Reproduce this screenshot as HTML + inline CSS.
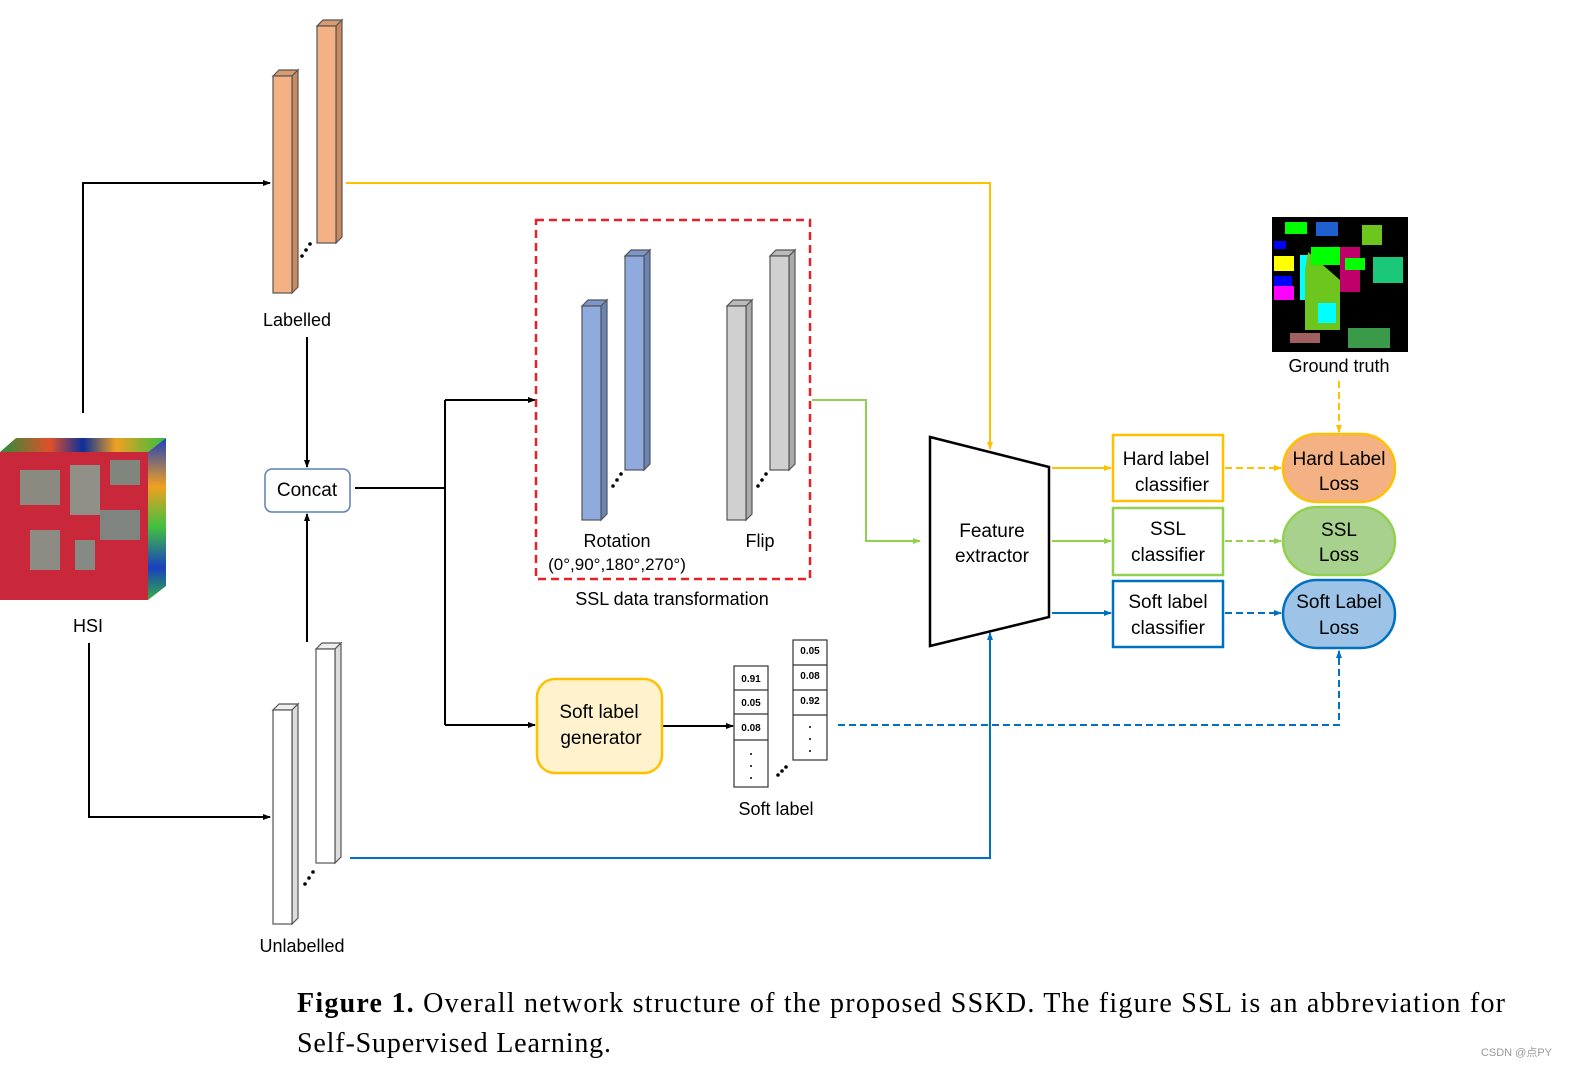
<!DOCTYPE html>
<html><head><meta charset="utf-8"><style>
html,body{margin:0;padding:0;background:#fff;width:1582px;height:1076px;overflow:hidden;}
svg{display:block;}
text{font-family:"Liberation Sans","DejaVu Sans",sans-serif;}
</style></head><body>
<svg width="1582" height="1076" viewBox="0 0 1582 1076" xmlns="http://www.w3.org/2000/svg">
<defs>
<marker id="ak" markerWidth="8" markerHeight="8" refX="7" refY="4" orient="auto" markerUnits="userSpaceOnUse"><path d="M0,1 L8,4 L0,7z" fill="#000"/></marker>
<marker id="ay" markerWidth="8" markerHeight="8" refX="7" refY="4" orient="auto" markerUnits="userSpaceOnUse"><path d="M0,1 L8,4 L0,7z" fill="#ffc000"/></marker>
<marker id="ag" markerWidth="8" markerHeight="8" refX="7" refY="4" orient="auto" markerUnits="userSpaceOnUse"><path d="M0,1 L8,4 L0,7z" fill="#92d050"/></marker>
<marker id="ab" markerWidth="8" markerHeight="8" refX="7" refY="4" orient="auto" markerUnits="userSpaceOnUse"><path d="M0,1 L8,4 L0,7z" fill="#0070c0"/></marker>
<linearGradient id="top" x1="0" x2="1"><stop offset="0" stop-color="#2a8f3a"/><stop offset=".3" stop-color="#e0502a"/><stop offset=".5" stop-color="#0b2f9a"/><stop offset=".7" stop-color="#f0a020"/><stop offset="1" stop-color="#30c040"/></linearGradient>
<linearGradient id="side" x1="0" y1="0" x2="0" y2="1"><stop offset="0" stop-color="#1a40c0"/><stop offset=".3" stop-color="#f0a020"/><stop offset=".55" stop-color="#40c040"/><stop offset=".8" stop-color="#1a40c0"/><stop offset="1" stop-color="#30b040"/></linearGradient>
</defs>

<!-- HSI cube -->
<polygon points="0,452 16,438 166,438 148,452" fill="url(#top)"/>
<polygon points="148,452 166,438 166,586 148,600" fill="url(#side)"/>
<rect x="0" y="452" width="148" height="148" fill="#c8283a"/>
<rect x="20" y="470" width="40" height="35" fill="#8a8a80"/>
<rect x="70" y="465" width="30" height="50" fill="#909088"/>
<rect x="100" y="510" width="40" height="30" fill="#7f8480"/>
<rect x="30" y="530" width="30" height="40" fill="#8c8c84"/>
<rect x="75" y="540" width="20" height="30" fill="#858a84"/>
<rect x="110" y="460" width="30" height="25" fill="#80857e"/>
<text x="88" y="632" font-size="18" text-anchor="middle">HSI</text>

<!-- black connectors -->
<polyline points="83,413 83,183 270,183" fill="none" stroke="#000" stroke-width="2" marker-end="url(#ak)"/>
<polyline points="89,643 89,817 270,817" fill="none" stroke="#000" stroke-width="2" marker-end="url(#ak)"/>
<line x1="307" y1="337" x2="307" y2="467" stroke="#000" stroke-width="2" marker-end="url(#ak)"/>
<line x1="307" y1="642" x2="307" y2="514" stroke="#000" stroke-width="2" marker-end="url(#ak)"/>
<line x1="355" y1="488" x2="445" y2="488" stroke="#000" stroke-width="2"/>
<line x1="445" y1="400" x2="445" y2="725" stroke="#000" stroke-width="2"/>
<line x1="445" y1="400" x2="535" y2="400" stroke="#000" stroke-width="2" marker-end="url(#ak)"/>
<line x1="445" y1="725" x2="535" y2="725" stroke="#000" stroke-width="2" marker-end="url(#ak)"/>
<line x1="662" y1="726" x2="733" y2="726" stroke="#000" stroke-width="2" marker-end="url(#ak)"/>

<!-- orange bars -->
<g stroke="#555" stroke-width="1.2">
<polygon points="273,76 279,70 298,70 292,76" fill="#d99a6c"/><polygon points="292,76 298,70 298,287 292,293" fill="#c88a5e"/><rect x="273" y="76" width="19" height="217" fill="#f4b183"/>
<polygon points="317,26 323,20 342,20 336,26" fill="#d99a6c"/><polygon points="336,26 342,20 342,237 336,243" fill="#c88a5e"/><rect x="317" y="26" width="19" height="217" fill="#f4b183"/>
</g>
<g fill="#000"><circle cx="302" cy="256" r="1.8"/><circle cx="306" cy="250" r="1.8"/><circle cx="310" cy="244" r="1.8"/></g>
<text x="297" y="326" font-size="18" text-anchor="middle">Labelled</text>

<!-- unlabelled bars -->
<g stroke="#555" stroke-width="1.2">
<polygon points="273,710 279,704 298,704 292,710" fill="#eee"/><polygon points="292,710 298,704 298,918 292,924" fill="#ddd"/><rect x="273" y="710" width="19" height="214" fill="#fff"/>
<polygon points="316,649 322,643 341,643 335,649" fill="#eee"/><polygon points="335,649 341,643 341,857 335,863" fill="#ddd"/><rect x="316" y="649" width="19" height="214" fill="#fff"/>
</g>
<g fill="#000"><circle cx="305" cy="884" r="1.8"/><circle cx="309" cy="878" r="1.8"/><circle cx="313" cy="872" r="1.8"/></g>
<text x="302" y="952" font-size="18" text-anchor="middle">Unlabelled</text>

<!-- concat -->
<rect x="265" y="469" width="85" height="43" rx="7" fill="#fff" stroke="#5b7fb8" stroke-width="1.5"/>
<text x="307" y="496" font-size="19" text-anchor="middle">Concat</text>

<!-- SSL box -->
<rect x="536" y="220" width="274" height="359" fill="none" stroke="#e8202a" stroke-width="2.5" stroke-dasharray="8,5"/>
<g stroke="#555" stroke-width="1.2">
<polygon points="582,306 588,300 607,300 601,306" fill="#7a96cc"/><polygon points="601,306 607,300 607,514 601,520" fill="#6a84b8"/><rect x="582" y="306" width="19" height="214" fill="#8faadc"/>
<polygon points="625,256 631,250 650,250 644,256" fill="#7a96cc"/><polygon points="644,256 650,250 650,464 644,470" fill="#6a84b8"/><rect x="625" y="256" width="19" height="214" fill="#8faadc"/>
<polygon points="727,306 733,300 752,300 746,306" fill="#bbb"/><polygon points="746,306 752,300 752,514 746,520" fill="#aaa"/><rect x="727" y="306" width="19" height="214" fill="#d0d0d0"/>
<polygon points="770,256 776,250 795,250 789,256" fill="#bbb"/><polygon points="789,256 795,250 795,464 789,470" fill="#aaa"/><rect x="770" y="256" width="19" height="214" fill="#d0d0d0"/>
</g>
<g fill="#000"><circle cx="613" cy="486" r="1.8"/><circle cx="617" cy="480" r="1.8"/><circle cx="621" cy="474" r="1.8"/>
<circle cx="758" cy="486" r="1.8"/><circle cx="762" cy="480" r="1.8"/><circle cx="766" cy="474" r="1.8"/></g>
<text x="617" y="547" font-size="18" text-anchor="middle">Rotation</text>
<text x="617" y="570" font-size="17" text-anchor="middle">(0°,90°,180°,270°)</text>
<text x="760" y="547" font-size="18" text-anchor="middle">Flip</text>
<text x="672" y="605" font-size="18" text-anchor="middle">SSL data transformation</text>

<!-- colored connectors -->
<polyline points="346,183 990,183 990,449" fill="none" stroke="#ffc000" stroke-width="2" marker-end="url(#ay)"/>
<polyline points="812,400 866,400 866,541 920,541" fill="none" stroke="#92d050" stroke-width="2" marker-end="url(#ag)"/>
<polyline points="350,858 990,858 990,633" fill="none" stroke="#0070c0" stroke-width="2" marker-end="url(#ab)"/>
<polyline points="838,725 1339,725 1339,651" fill="none" stroke="#0070c0" stroke-width="2" stroke-dasharray="7,4" marker-end="url(#ab)"/>
<line x1="1339" y1="381" x2="1339" y2="432" stroke="#ffc000" stroke-width="2" stroke-dasharray="7,4" marker-end="url(#ay)"/>

<!-- feature extractor -->
<polygon points="930,437 1049,467 1049,617 930,646" fill="#fff" stroke="#000" stroke-width="2.5"/>
<text x="992" y="537" font-size="19" text-anchor="middle">Feature</text>
<text x="992" y="562" font-size="19" text-anchor="middle">extractor</text>

<line x1="1052" y1="468" x2="1111" y2="468" stroke="#ffc000" stroke-width="2" marker-end="url(#ay)"/>
<line x1="1052" y1="541" x2="1111" y2="541" stroke="#92d050" stroke-width="2" marker-end="url(#ag)"/>
<line x1="1052" y1="613" x2="1111" y2="613" stroke="#0070c0" stroke-width="2" marker-end="url(#ab)"/>

<rect x="1113" y="435" width="110" height="66" fill="#fff" stroke="#ffc000" stroke-width="2.5"/>
<rect x="1113" y="508" width="110" height="67" fill="#fff" stroke="#92d050" stroke-width="2.5"/>
<rect x="1113" y="581" width="110" height="66" fill="#fff" stroke="#0070c0" stroke-width="2.5"/>
<g font-size="19" text-anchor="middle">
<text x="1166" y="465">Hard label</text><text x="1172" y="491">classifier</text>
<text x="1168" y="535">SSL</text><text x="1168" y="561">classifier</text>
<text x="1168" y="608">Soft label</text><text x="1168" y="634">classifier</text>
</g>
<line x1="1225" y1="468" x2="1281" y2="468" stroke="#ffc000" stroke-width="2" stroke-dasharray="7,4" marker-end="url(#ay)"/>
<line x1="1225" y1="541" x2="1281" y2="541" stroke="#92d050" stroke-width="2" stroke-dasharray="7,4" marker-end="url(#ag)"/>
<line x1="1225" y1="613" x2="1281" y2="613" stroke="#0070c0" stroke-width="2" stroke-dasharray="7,4" marker-end="url(#ab)"/>

<rect x="1283" y="434" width="112" height="68" rx="34" fill="#f4b183" stroke="#ffc000" stroke-width="2.5"/>
<rect x="1283" y="507" width="112" height="68" rx="34" fill="#a9d18e" stroke="#92d050" stroke-width="2.5"/>
<rect x="1283" y="580" width="112" height="68" rx="34" fill="#9dc3e6" stroke="#0070c0" stroke-width="2.5"/>
<g font-size="19" text-anchor="middle">
<text x="1339" y="465">Hard Label</text><text x="1339" y="490">Loss</text>
<text x="1339" y="536">SSL</text><text x="1339" y="561">Loss</text>
<text x="1339" y="608">Soft Label</text><text x="1339" y="634">Loss</text>
</g>

<!-- ground truth -->
<rect x="1272" y="217" width="136" height="135" fill="#000"/>
<rect x="1300" y="255" width="10" height="45" fill="#00ffff"/>
<polygon points="1308,252 1340,280 1340,330 1305,330 1305,270" fill="#6cc61e"/>
<rect x="1311" y="247" width="40" height="18" fill="#00ff00"/>
<rect x="1340" y="247" width="20" height="45" fill="#c0006a"/>
<rect x="1274" y="256" width="20" height="15" fill="#ffff00"/>
<rect x="1274" y="276" width="18" height="12" fill="#0000ff"/>
<rect x="1274" y="286" width="20" height="14" fill="#ff00ff"/>
<rect x="1285" y="222" width="22" height="12" fill="#00ff00"/>
<rect x="1316" y="222" width="22" height="14" fill="#1e60d0"/>
<rect x="1362" y="225" width="20" height="20" fill="#6cc61e"/>
<rect x="1373" y="257" width="30" height="26" fill="#1ac87a"/>
<rect x="1348" y="328" width="42" height="20" fill="#3a9a4a"/>
<rect x="1318" y="303" width="18" height="20" fill="#00ffff"/>
<rect x="1290" y="333" width="30" height="10" fill="#a06060"/>
<rect x="1274" y="241" width="12" height="8" fill="#0000ff"/>
<rect x="1345" y="258" width="20" height="12" fill="#00ff00"/>
<text x="1339" y="372" font-size="18" text-anchor="middle">Ground truth</text>

<!-- soft label generator -->
<rect x="537" y="679" width="125" height="94" rx="18" fill="#fff2cc" stroke="#ffc000" stroke-width="2.5"/>
<text x="599" y="718" font-size="19" text-anchor="middle">Soft label</text>
<text x="601" y="744" font-size="19" text-anchor="middle">generator</text>

<!-- soft label columns -->
<g stroke="#333" stroke-width="1.2" fill="#fff">
<rect x="734" y="666" width="34" height="121"/><line x1="734" y1="690" x2="768" y2="690"/><line x1="734" y1="714" x2="768" y2="714"/><line x1="734" y1="740" x2="768" y2="740"/>
<rect x="793" y="640" width="34" height="120"/><line x1="793" y1="665" x2="827" y2="665"/><line x1="793" y1="690" x2="827" y2="690"/><line x1="793" y1="715" x2="827" y2="715"/>
</g>
<g font-size="10" font-weight="bold" text-anchor="middle">
<text x="751" y="682">0.91</text><text x="751" y="706">0.05</text><text x="751" y="731">0.08</text>
<text x="810" y="654">0.05</text><text x="810" y="679">0.08</text><text x="810" y="704">0.92</text>
</g>
<g fill="#000"><circle cx="751" cy="754" r="1"/><circle cx="751" cy="766" r="1"/><circle cx="751" cy="778" r="1"/>
<circle cx="810" cy="727" r="1"/><circle cx="810" cy="739" r="1"/><circle cx="810" cy="751" r="1"/>
<circle cx="778" cy="775" r="1.8"/><circle cx="782" cy="771" r="1.8"/><circle cx="786" cy="767" r="1.8"/></g>
<text x="776" y="815" font-size="18" text-anchor="middle">Soft label</text>

<!-- caption -->
<text x="297" y="1012" font-size="28" textLength="1208" lengthAdjust="spacing" style="font-family:'Liberation Serif',serif"><tspan font-weight="bold">Figure 1.</tspan> Overall network structure of the proposed SSKD. The figure SSL is an abbreviation for</text>
<text x="297" y="1052" font-size="28" textLength="314" lengthAdjust="spacing" style="font-family:'Liberation Serif',serif">Self-Supervised Learning.</text>
<text x="1552" y="1056" font-size="11" fill="#999" text-anchor="end">CSDN @点PY</text>
</svg>
</body></html>
